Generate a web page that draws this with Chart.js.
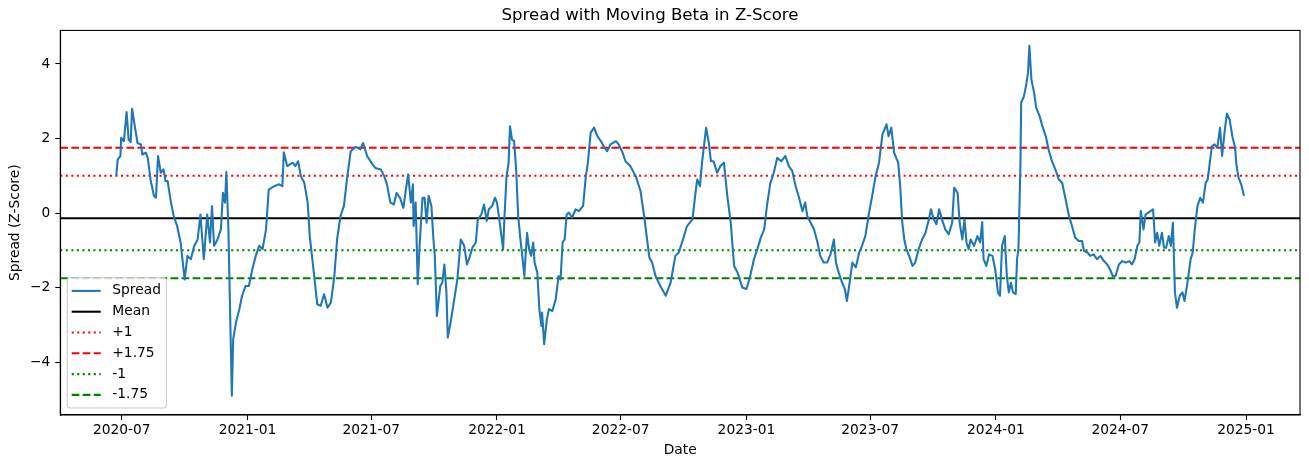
<!DOCTYPE html>
<html>
<head>
<meta charset="utf-8">
<script src="https://cdn.jsdelivr.net/npm/chart.js@4.4.1/dist/chart.umd.min.js"></script>
<style>
  html, body { margin: 0; padding: 0; background: #fff; }
  #wrap { width: 1309px; height: 468px; }
</style>
</head>
<body>
<div id="wrap"><canvas id="chart" width="1309" height="468"></canvas></div>
<script>
// series start date; spreadDays are days after it
const START_DATE = '2020-06-23';
const spreadDays = [
  0, 2, 6, 7, 11, 15, 18, 21, 23, 27, 31, 36, 38, 43, 46, 50, 55, 58, 61, 65, 69, 72, 75, 80, 84, 89, 94, 100,
  104, 109, 114, 119, 123, 128, 133, 137, 140, 143, 148, 153, 156, 159, 161, 164, 167, 169, 171, 175, 180, 184,
  189, 194, 199, 204, 209, 214, 219, 223, 231, 238, 243, 245, 250, 258, 262, 266, 270, 275, 280, 283, 289, 294,
  299, 304, 309, 314, 319, 323, 328, 333, 338, 343, 350, 357, 361, 367, 375, 379,
  387, 392, 396, 401, 406, 410, 415, 420, 423, 427, 431, 434, 435, 438, 441, 444, 448, 451, 454, 457, 461, 464,
  466, 469, 474, 477, 480, 483, 485, 489, 493, 499, 504, 509, 513, 516, 521, 526, 529, 534, 538, 542, 545, 550,
  554, 557, 561, 566, 568, 571, 574, 576, 579, 582, 585, 588, 591, 594, 597, 601, 604, 607, 610, 612, 616, 619,
  622, 623, 626, 630, 633, 638, 643, 647, 650, 653, 656, 659, 662, 667, 672, 677, 683, 687, 690, 694, 699, 704,
  709, 713, 718, 723, 731, 735, 740, 745, 752, 760, 767, 772, 776, 780, 784, 789, 796, 804,
  811, 818, 823, 830, 835, 843, 848, 850, 854, 857, 863, 867, 870, 874, 879, 884, 889, 894, 899, 904, 909, 916,
  922, 927, 933, 938, 943, 948, 952, 957, 962, 967, 973, 979, 984, 989, 994, 999, 1004, 1008, 1011, 1016, 1021,
  1026, 1030, 1035, 1040, 1045, 1050, 1053, 1057, 1062, 1066, 1069, 1073, 1077, 1082, 1087, 1091, 1096, 1101,
  1106, 1111, 1116, 1121, 1127, 1130, 1134, 1138, 1144, 1147, 1150, 1153, 1156, 1160, 1165, 1169, 1174, 1179,
  1184, 1189, 1192, 1196, 1200, 1204, 1208, 1213, 1218, 1223, 1226, 1231, 1234, 1238,
  1241, 1244, 1247, 1250, 1255, 1260, 1264, 1267, 1269, 1273, 1277, 1282, 1286, 1290, 1293, 1296, 1300, 1303,
  1306, 1309, 1312, 1316, 1318, 1320, 1323, 1324, 1328, 1331, 1334, 1336, 1339, 1343, 1346, 1351, 1355, 1360,
  1364, 1369, 1374, 1379, 1384, 1389, 1394, 1399, 1403, 1408, 1413, 1416, 1421, 1425, 1430, 1435, 1440, 1445,
  1450, 1455, 1458, 1462, 1467, 1472, 1477, 1482, 1486, 1490, 1494, 1497, 1499, 1503, 1506, 1510, 1513, 1517,
  1520, 1523, 1526, 1530, 1533, 1536, 1540, 1543, 1546, 1549, 1552, 1556, 1560, 1563, 1567, 1572, 1575, 1578,
  1582, 1586, 1590, 1594, 1597, 1600, 1603, 1607, 1611, 1615, 1618, 1622, 1625, 1629, 1633, 1637, 1639, 1642,
  1646, 1650
];
const spreadZ = [
  1.02, 1.44, 1.53, 2.02, 1.93, 2.71, 1.97, 1.90, 2.80, 2.33, 1.88, 1.84, 1.57, 1.62, 1.48, 0.90, 0.46, 0.41,
  1.53, 1.08, 1.17, 0.86, 0.86, 0.28, -0.08, -0.35, -0.79, -1.78,
  -1.15, -1.24, -0.88, -0.71, -0.04, -1.24, -0.04, -0.79, 0.19, -0.88, -0.71, -0.44, 0.54, 0.28, 1.10, -0.44,
  -3.12, -4.90, -3.38, -2.94, -2.58, -2.22,
  -1.96, -1.96, -1.51, -1.15, -0.88, -0.97, -0.44, 0.63, 0.72, 0.77, 0.72, 1.63, 1.26, 1.35, 1.26, 1.39, 0.99,
  0.81, 0.28, -0.62, -1.60, -2.45,
  -2.49, -2.18, -2.54, -2.40, -1.69, -0.71, -0.08, 0.19, 0.99, 1.66, 1.78, 1.71, 1.88, 1.53, 1.30, 1.21,
  1.17, 0.99, 0.77, 0.28, 0.23, 0.54, 0.41, 0.14, 0.54, 1.04, 0.28, 0.77, -0.35, 0.28, -1.91, -0.79, 0.41, 0.41,
  -0.26, 0.46, 0.19, -0.71,
  -1.15, -2.76, -1.96, -1.87, -1.38, -2.13, -3.34, -2.94, -2.49, -1.78, -0.71, -0.88, -1.38, -1.24, -0.93, -0.79,
  -0.17, -0.04, 0.23, -0.21, 0.10, 0.19,
  0.41, 0.28, -0.26, -0.97, -0.08, 0.99, 1.35, 2.33, 1.97, 1.93, 1.17, -0.08, -0.66, -1.15, -1.69, -0.53, -0.97,
  -1.15, -0.79, -1.33, -1.60, -2.58,
  -3.03, -2.67, -3.52, -2.85, -2.58, -2.63, -2.31, -1.69, -1.78, -0.79, -0.71, -0.04, 0.01, -0.12, 0.10, 0.05,
  0.19, 0.99, 1.35, 2.15, 2.29, 2.06,
  1.93, 1.79, 1.66, 1.84, 1.93, 1.84, 1.66, 1.39, 1.26, 0.99, 0.59, -0.04, -0.62, -1.20, -1.33, -1.69, -1.96, -2.22,
  -1.87, -1.15, -1.06, -0.66, -0.35, -0.17, 0.63, 0.90, 0.72, 1.35, 2.29, 1.88, 1.39, 1.39, 1.08, 1.26, 1.35, 0.46,
  -0.26, -1.42, -1.60, -2.00,
  -2.04, -1.73, -1.24, -0.97, -0.66, -0.44, 0.19, 0.81, 1.08, 1.48, 1.39, 1.53, 1.26, 1.13, 0.72, 0.41, 0.05, 0.28,
  -0.08, -0.26, -0.44,
  -0.79, -1.15, -1.33, -1.33, -1.11, -0.71, -1.33, -1.60, -1.87, -2.04, -2.36, -1.87, -1.33, -1.46, -1.06, -0.88,
  -0.62, -0.04,
  0.46, 0.99, 1.35, 2.11, 2.38, 2.06, 2.29, 1.62, 1.35, 0.72, -0.26, -0.71, -0.97, -1.15, -1.42, -1.33, -0.97, -0.71,
  -0.53, -0.17, 0.10, -0.17, -0.30, 0.10, -0.17, -0.44, -0.57, -0.26, 0.68, 0.54, -0.26, -0.71,
  -0.17, -0.79, -0.97, -0.71, -0.88, -0.62, -0.79, -0.24, -1.24, -1.42, -1.11, -1.15, -1.51, -2.13, -2.22, -0.88,
  -0.62, -1.69,
  -2.13, -1.87, -2.13, -2.18, -1.24, -0.97, 1.35, 2.96, 3.13, 3.40, 3.76, 4.49, 3.58, 3.22, 2.82, 2.60, 2.33, 2.06,
  1.71, 1.39, 1.17, 0.90, 0.81, 0.37, -0.08, -0.39, -0.66, -0.75, -0.75, -1.02, -1.06, -1.15, -1.11, -1.24, -1.15,
  -1.29,
  -1.38, -1.55, -1.69, -1.69, -1.38, -1.29, -1.33, -1.29, -1.38, -1.24, -0.88, -0.79, 0.05, -0.44, -0.04, 0.01,
  0.05, 0.10,
  -0.79, -0.53, -0.88, -0.53, -0.93, -0.93, -0.62, -0.88, -0.26, -2.13, -2.54, -2.22, -2.13, -2.36, -1.91, -1.24,
  -1.06, -0.44,
  0.19, 0.41, 0.28, 0.81, 0.90, 1.35, 1.79, 1.84, 1.75, 2.29, 1.53, 2.24, 2.67, 2.51, 2.06, 1.75, 1.30, 0.95,
  0.77, 0.46
];
const meanZ = -0.14;
const upper1 = 1, upper175 = 1.75, lower1 = -1, lower175 = -1.75;
const xTickLabels = ['2020-07', '2021-01', '2021-07', '2022-01', '2022-07', '2023-01', '2023-07', '2024-01', '2024-07', '2025-01'];
const yTicks = [-4, -2, 0, 2, 4];
const xRange = ['2020-04-02', '2025-03-21'];
const yRange = [-5.42, 4.9];

const DAY = 86400000;
const toTime = s => Date.parse(s + (s.length === 7 ? '-01' : '') + 'T00:00:00Z');
const startT = toTime(START_DATE);
const xMin = toTime(xRange[0]), xMax = toTime(xRange[1]);
const xTickValues = xTickLabels.map(toTime);

const LW = 2.08;
const DOTTED = [1 * LW, 1.65 * LW];
const DASHED = [3.7 * LW, 1.6 * LW];
const FONT = 'DejaVu Sans';

const hline = v => [{ x: xMin, y: v }, { x: xMax, y: v }];
const lineStyle = (color, dash) => ({
  borderColor: color, backgroundColor: color, borderWidth: LW, borderDash: dash || [],
  pointRadius: 0, fill: false, tension: 0
});

// matplotlib-like boxed legend inside the axes + top/right spines
const boxLegend = {
  id: 'boxLegend',
  afterDraw(chart) {
    const { ctx, chartArea: a } = chart;
    ctx.save();
    ctx.strokeStyle = '#000';
    ctx.lineWidth = 1.1;
    ctx.strokeRect(a.left, a.top, a.right - a.left, a.bottom - a.top);

    const sets = chart.data.datasets;
    const fs = 13.8, rowH = 20.8, pad = 13.1;
    ctx.font = fs + 'px "' + FONT + '"';
    const textW = Math.max(...sets.map(d => ctx.measureText(d.label).width));
    const w = 4.4 + 29 + 11.6 + textW + 5.5;
    const h = pad * 2 + rowH * (sets.length - 1);
    const x0 = a.left + 7, y0 = a.bottom - 7 - h;
    ctx.beginPath();
    ctx.roundRect(x0, y0, w, h, 3);
    ctx.fillStyle = 'rgba(255,255,255,0.8)';
    ctx.fill();
    ctx.strokeStyle = '#cccccc';
    ctx.lineWidth = 1.1;
    ctx.stroke();

    sets.forEach((d, i) => {
      const cy = y0 + pad + i * rowH;
      ctx.beginPath();
      ctx.setLineDash(d.borderDash || []);
      ctx.strokeStyle = d.borderColor;
      ctx.lineWidth = d.borderWidth;
      ctx.moveTo(x0 + 4.4, cy);
      ctx.lineTo(x0 + 33.4, cy);
      ctx.stroke();
      ctx.setLineDash([]);
      ctx.fillStyle = '#000';
      ctx.textAlign = 'left';
      ctx.textBaseline = 'middle';
      ctx.fillText(d.label, x0 + 45, cy);
    });
    ctx.restore();
  }
};

new Chart(document.getElementById('chart'), {
  type: 'line',
  data: {
    datasets: [
      { label: 'Spread', data: spreadDays.map((d, i) => ({ x: startT + d * DAY, y: spreadZ[i] })), ...lineStyle('#1f77b4'), borderJoinStyle: 'round' },
      { label: 'Mean', data: hline(meanZ), ...lineStyle('#000000') },
      { label: '+1', data: hline(upper1), ...lineStyle('#ff0000', DOTTED) },
      { label: '+1.75', data: hline(upper175), ...lineStyle('#ff0000', DASHED) },
      { label: '-1', data: hline(lower1), ...lineStyle('#008000', DOTTED) },
      { label: '-1.75', data: hline(lower175), ...lineStyle('#008000', DASHED) }
    ]
  },
  options: {
    responsive: false,
    maintainAspectRatio: false,
    animation: false,
    devicePixelRatio: 1,
    layout: { padding: { left: 0, right: 9, top: 0, bottom: 0 } },
    plugins: {
      legend: { display: false },
      tooltip: { enabled: false },
      title: {
        display: true, text: 'Spread with Moving Beta in Z-Score', color: '#000',
        font: { family: FONT, size: 16.6, weight: 'normal' }, padding: { top: 6, bottom: 4.5 }
      }
    },
    scales: {
      x: {
        type: 'linear', min: xMin, max: xMax,
        afterBuildTicks: s => { s.ticks = xTickValues.map(v => ({ value: v })); },
        afterFit: s => { s.height = 53; },
        ticks: {
          autoSkip: false, maxRotation: 0, padding: 2.5, color: '#000',
          font: { family: FONT, size: 13.8 },
          callback: (v, i) => xTickLabels[i]
        },
        grid: { drawOnChartArea: false, drawTicks: true, tickLength: 5, tickColor: '#000', tickWidth: 1.1 },
        border: { display: true, color: '#000', width: 1.1 },
        title: { display: true, text: 'Date', color: '#000', font: { family: FONT, size: 13.8 }, padding: { top: 0, bottom: 9.2 } }
      },
      y: {
        min: yRange[0], max: yRange[1],
        afterBuildTicks: s => { s.ticks = yTicks.map(v => ({ value: v })); },
        afterFit: s => { s.width = 60.3; },
        ticks: {
          padding: 5, color: '#000', font: { family: FONT, size: 13.8 },
          callback: v => (v < 0 ? '\u2212' + Math.abs(v) : String(v))
        },
        grid: { drawOnChartArea: false, drawTicks: true, tickLength: 5, tickColor: '#000', tickWidth: 1.1 },
        border: { display: true, color: '#000', width: 1.1 },
        title: { display: true, text: 'Spread (Z-Score)', color: '#000', font: { family: FONT, size: 13.8 }, padding: { top: 7.2, bottom: 0 } }
      }
    }
  },
  plugins: [boxLegend]
});
</script>
</body>
</html>
